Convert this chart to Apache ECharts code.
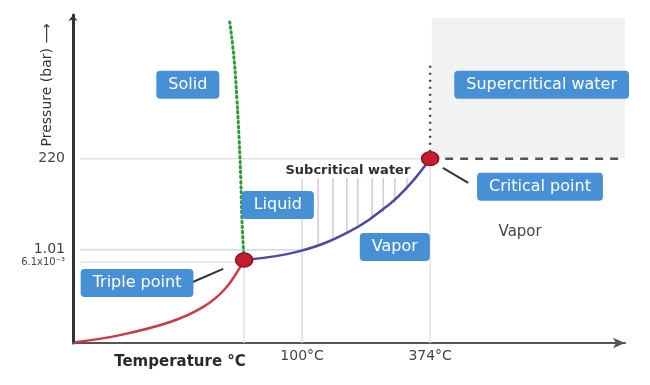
<!DOCTYPE html>
<html><head><meta charset="utf-8">
<script src="https://cdn.jsdelivr.net/npm/echarts@6/dist/echarts.min.js"></script>
<style>html,body{margin:0;background:#fff}#c{width:650px;height:385px}</style>
</head><body><div id="c"></div>
<script>
// Schematic phase diagram of water (axes are not to scale)
const xTickValues = [41.5, 64.7];
const xTickLabels = ['100°C', '374°C'];
const yTickValues = [24.6, 28.4, 56.2];
const yTickLabels = ['6.1x10⁻³', '1.01', '220'];
const triplePoint = [31.0, 25.3];
const criticalPoint = [64.7, 56.2];
const sublimationCurve = [[0.4, 0.2], [8.5, 2.4], [17.6, 6.4], [23.6, 11.0], [27.6, 16.6], [31.0, 25.3]];
const meltingCurve = [[28.4, 97.9], [29.2, 86.3], [29.7, 74.1], [30.1, 61.9], [30.4, 49.7], [30.6, 37.5], [31.0, 25.3]];
const vaporizationCurve = [[31.0, 25.3], [41.1, 28.0], [50.2, 34.1], [57.4, 42.4], [61.1, 48.5], [64.7, 56.2]];
const hatchX = [44.4, 47.1, 49.6, 51.6, 54.2, 56.2, 58.3, 60.5];
const hatchTop = 50.3;
const hatchBottom = [29.9, 32.0, 33.8, 35.7, 37.8, 39.9, 42.7, 46.6];
const criticalIsothermTop = 85.7;
const supercriticalTop = 99.1;
const regionNames = ['Solid', 'Liquid', 'Vapor', 'Triple point', 'Critical point', 'Supercritical water'];
const regionAnchors = [[20.8, 78.7], [37.1, 42.1], [58.3, 29.3], [11.6, 18.3], [84.6, 47.6], [84.9, 78.7]];
const plainNames = ['Subcritical water', 'Vapor'];
const plainAnchors = [[49.8, 52.7], [81.0, 33.8]];
const triplePointer = [[21.7, 18.6], [27.2, 22.6]];
const criticalPointer = [[67.0, 53.4], [71.6, 48.8]];

const FONT = 'DejaVu Sans';
const chart = echarts.init(document.getElementById('c'), null, {renderer: 'canvas'});

function guide(data, color) {
  return {type: 'line', data, symbol: 'none', silent: true, z: 1,
    lineStyle: {color, width: 1.5}};
}
const guides = [
  guide([[1.3, yTickValues[2]], [criticalPoint[0], yTickValues[2]]], '#e2e2e2'),
  guide([[1.3, yTickValues[1]], [xTickValues[0], yTickValues[1]]], '#c9dced'),
  guide([[1.3, yTickValues[0]], [triplePoint[0], yTickValues[0]]], '#f1dcdc'),
  guide([[triplePoint[0], 0], triplePoint], '#e4e4e4'),
  guide([[xTickValues[0], 0], [xTickValues[0], hatchTop]], '#c9dced'),
  guide([[xTickValues[1], 0], [xTickValues[1], criticalPoint[1]]], '#e4e4e4')
];

const boxLabels = {
  type: 'scatter', symbolSize: 0, z: 10, silent: true, itemStyle: {opacity: 1},
  data: regionNames.map((n, i) => ({name: n, value: regionAnchors[i]})),
  label: {show: true, position: 'inside', formatter: p => p.name,
    color: '#fff', fontFamily: FONT, fontSize: 16, backgroundColor: '#4890d6',
    borderRadius: 4, padding: [6, 12]}
};
const plainLabels = {
  type: 'scatter', symbolSize: 0, z: 10, silent: true, itemStyle: {opacity: 1},
  data: plainNames.map((n, i) => ({name: n, value: plainAnchors[i]})),
  label: {show: true, position: 'inside',
    formatter: p => p.dataIndex === 0 ? '{b|' + p.name + '}' : '{n|' + p.name + '}',
    rich: {b: {color: '#2e2e2e', fontFamily: FONT, fontSize: 13, fontWeight: 'bold'},
           n: {color: '#444', fontFamily: FONT, fontSize: 15}}}
};

const hatch = {
  type: 'custom', z: 2, silent: true,
  data: hatchX.map((x, i) => [x, hatchTop, hatchBottom[i]]),
  renderItem: (params, api) => {
    const a = api.coord([api.value(0), api.value(1)]);
    const b = api.coord([api.value(0), api.value(2)]);
    return {type: 'line', shape: {x1: a[0], y1: a[1], x2: b[0], y2: b[1]},
      style: {stroke: '#d9c6dc', lineWidth: 1.5}};
  }
};

const option = {
  animation: false,
  grid: {left: 73, right: 25, top: 15, bottom: 42},
  xAxis: {type: 'value', min: 0, max: 100,
    axisLine: {lineStyle: {color: '#555', width: 2}, symbol: ['none', 'arrow'], symbolSize: [8, 12]},
    axisTick: {show: false}, splitLine: {show: false},
    axisLabel: {customValues: xTickValues, margin: 6, color: '#444', fontFamily: FONT, fontSize: 14,
      formatter: v => xTickLabels[xTickValues.indexOf(v)] || ''}},
  yAxis: {type: 'value', min: 0, max: 100,
    axisLine: {lineStyle: {color: '#333', width: 3}, symbol: ['none', 'arrow'], symbolSize: [7, 6]},
    axisTick: {show: false}, splitLine: {show: false},
    axisLabel: {customValues: yTickValues, margin: 8, color: '#444', fontFamily: FONT, fontSize: 14,
      formatter: v => {
        const i = yTickValues.indexOf(v);
        if (i < 0) return '';
        return i === 0 ? '{s|' + yTickLabels[i] + '}' : yTickLabels[i];
      },
      rich: {s: {fontSize: 10, color: '#444', fontFamily: FONT}}}},
  graphic: [
    {type: 'text', x: 47, y: 85, rotation: Math.PI / 2,
      style: {text: 'Pressure (bar) ⟶', fontFamily: FONT, fontSize: 14, fill: '#333', align: 'center', verticalAlign: 'middle'}},
    {type: 'text', x: 180, y: 362,
      style: {text: 'Temperature °C', fontFamily: FONT, fontSize: 15, fontWeight: 600, fill: '#2a2a2a', align: 'center', verticalAlign: 'middle'}}
  ],
  series: [
    ...guides,
    {type: 'line', data: [], symbol: 'none', silent: true, z: 0,
      markArea: {silent: true, itemStyle: {color: '#f2f2f2'},
        data: [[{coord: [criticalPoint[0] + 0.3, criticalPoint[1] + 0.3]}, {coord: [100, supercriticalTop]}]]}},
    hatch,
    {type: 'line', data: sublimationCurve, smooth: 0.35, symbol: 'none', z: 4,
      lineStyle: {color: '#cc3a48', width: 2.5}},
    {type: 'line', data: meltingCurve, smooth: 0.4, symbol: 'none', z: 4,
      lineStyle: {color: '#2f9a3a', width: 3, type: [1.5, 3.5], cap: 'round'}},
    {type: 'line', data: vaporizationCurve, smooth: 0.4, symbol: 'none', z: 4,
      lineStyle: {color: '#5546a0', width: 2.5}},
    {type: 'line', data: [criticalPoint, [criticalPoint[0], criticalIsothermTop]], symbol: 'none', z: 4,
      lineStyle: {color: '#444', width: 2.5, type: [2, 5]}},
    {type: 'line', data: [criticalPoint, [100, criticalPoint[1]]], symbol: 'none', z: 4,
      lineStyle: {color: '#555', width: 2.5, type: [8, 7]}},
    {type: 'line', data: triplePointer, symbol: 'none', z: 4, lineStyle: {color: '#333', width: 2}},
    {type: 'line', data: criticalPointer, symbol: 'none', z: 4, lineStyle: {color: '#333', width: 2}},
    {type: 'scatter', data: [triplePoint, criticalPoint], symbolSize: [17, 14], z: 6,
      itemStyle: {color: '#c41e2e', borderColor: '#8a1522', borderWidth: 1.5, opacity: 1}},
    boxLabels,
    plainLabels
  ]
};
chart.setOption(option);
</script></body></html>
